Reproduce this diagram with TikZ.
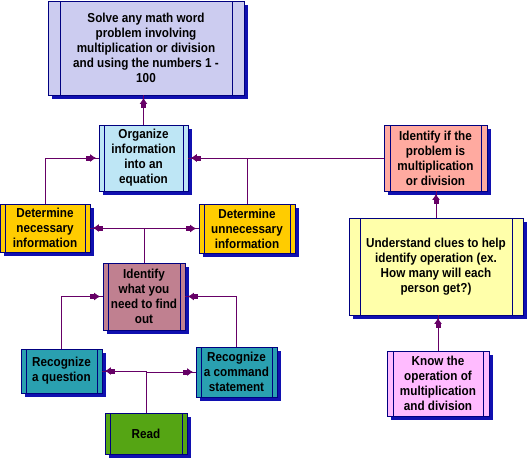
\documentclass[tikz,border=0pt]{standalone}
\usepackage{fontspec}
\setmainfont{Liberation Sans}[FakeStretch=0.9]
\usepackage{tikz}
\usetikzlibrary{arrows.meta, shadows, calc}
\definecolor{MapNavy}{RGB}{0,0,128}
\definecolor{MapShadow}{RGB}{16,16,176}
\definecolor{MapPurple}{RGB}{102,0,102}
\definecolor{MapLavender}{RGB}{204,204,240}
\definecolor{MapSky}{RGB}{190,230,245}
\definecolor{MapOrange}{RGB}{255,204,0}
\definecolor{MapMauve}{RGB}{192,128,144}
\definecolor{MapTeal}{RGB}{42,160,176}
\definecolor{MapGreen}{RGB}{85,165,20}
\definecolor{MapSalmon}{RGB}{255,170,160}
\definecolor{MapCream}{RGB}{255,255,170}
\definecolor{MapPink}{RGB}{255,187,255}

\tikzset{
  barinset/.store in=\barinset, barinset=5pt,
  procbox/.style={draw=MapNavy, line width=0.8pt, align=center, inner sep=0pt,
    font=\fontsize{13}{15}\selectfont\bfseries, text=black,
    drop shadow={shadow xshift=4pt, shadow yshift=-4pt, fill=MapShadow, opacity=1},
    path picture={
      \draw[MapNavy, line width=0.8pt]
        ([xshift=\barinset]path picture bounding box.north west) --
        ([xshift=\barinset]path picture bounding box.south west);
      \draw[MapNavy, line width=0.8pt]
        ([xshift=-\barinset]path picture bounding box.north east) --
        ([xshift=-\barinset]path picture bounding box.south east);
    }},
  link/.style={MapPurple, line width=0.9pt,
    -{Rectangle[length=4pt,width=5pt]Latex[length=6pt,width=8pt]Rectangle[length=2.5pt,width=1pt]}}
}

\begin{document}
\begin{tikzpicture}[x=1pt, y=-1pt]
  \useasboundingbox (0,0) rectangle (527,459);

  % Goal
  \node[procbox, fill=MapLavender, barinset=12pt, minimum width=196pt, minimum height=94pt]
    (solve) at (146,48) {Solve any math word\\problem involving\\multiplication or division\\and using the numbers 1 -\\100};

  % Left branch
  \node[procbox, fill=MapSky, minimum width=89pt, minimum height=66pt]
    (organize) at (143.5,158) {Organize\\information\\into an\\equation};
  \node[procbox, fill=MapOrange, minimum width=90pt, minimum height=48pt]
    (detnec) at (45,228) {Determine\\necessary\\information};
  \node[procbox, fill=MapOrange, minimum width=96pt, minimum height=49pt]
    (detunn) at (247,228.5) {Determine\\unnecessary\\information};
  \node[procbox, fill=MapMauve, minimum width=82pt, minimum height=67pt]
    (findout) at (144,296.5) {Identify\\what you\\need to find\\out};
  \node[procbox, fill=MapTeal, minimum width=81pt, minimum height=44pt]
    (question) at (61.5,371) {Recognize\\a question};
  \node[procbox, fill=MapTeal, minimum width=81pt, minimum height=50pt]
    (command) at (236.5,372) {Recognize\\a command\\statement};
  \node[procbox, fill=MapGreen, minimum width=82pt, minimum height=41pt]
    (read) at (146,433.5) {Read};

  % Right branch
  \node[procbox, fill=MapSalmon, barinset=6pt, minimum width=103pt, minimum height=66pt]
    (operation) at (435.5,158) {Identify if the\\problem is\\multiplication\\or division};
  \node[procbox, fill=MapCream, barinset=11pt, minimum width=174pt, minimum height=97pt]
    (clues) at (436,266.5) {Understand clues to help\\identify operation (ex.\\How many will each\\person get?)};
  \node[procbox, fill=MapPink, barinset=6pt, minimum width=102pt, minimum height=65pt]
    (know) at (438,383.5) {Know the\\operation of\\multiplication\\and division};

  % Connectors
  \draw[link] (organize.north) -- (organize.north |- solve.south);
  \draw[link] (detnec.north) |- (organize.west);
  \draw[link] (detunn.north) |- (organize.east);
  \draw[link] (operation.west) -- (organize.east);
  \draw[link] (findout.north) |- (detnec.east);
  \draw[link] (findout.north) |- (detunn.west);
  \draw[link] (question.north) |- (findout.west);
  \draw[link] (command.north) |- (findout.east);
  \draw[link] (read.north) |- (question.east);
  \draw[link] (read.north) |- (command.west);
  \draw[link] (clues.north) -- (clues.north |- operation.south);
  \draw[link] (know.north) -- (know.north |- clues.south);
\end{tikzpicture}
\end{document}
